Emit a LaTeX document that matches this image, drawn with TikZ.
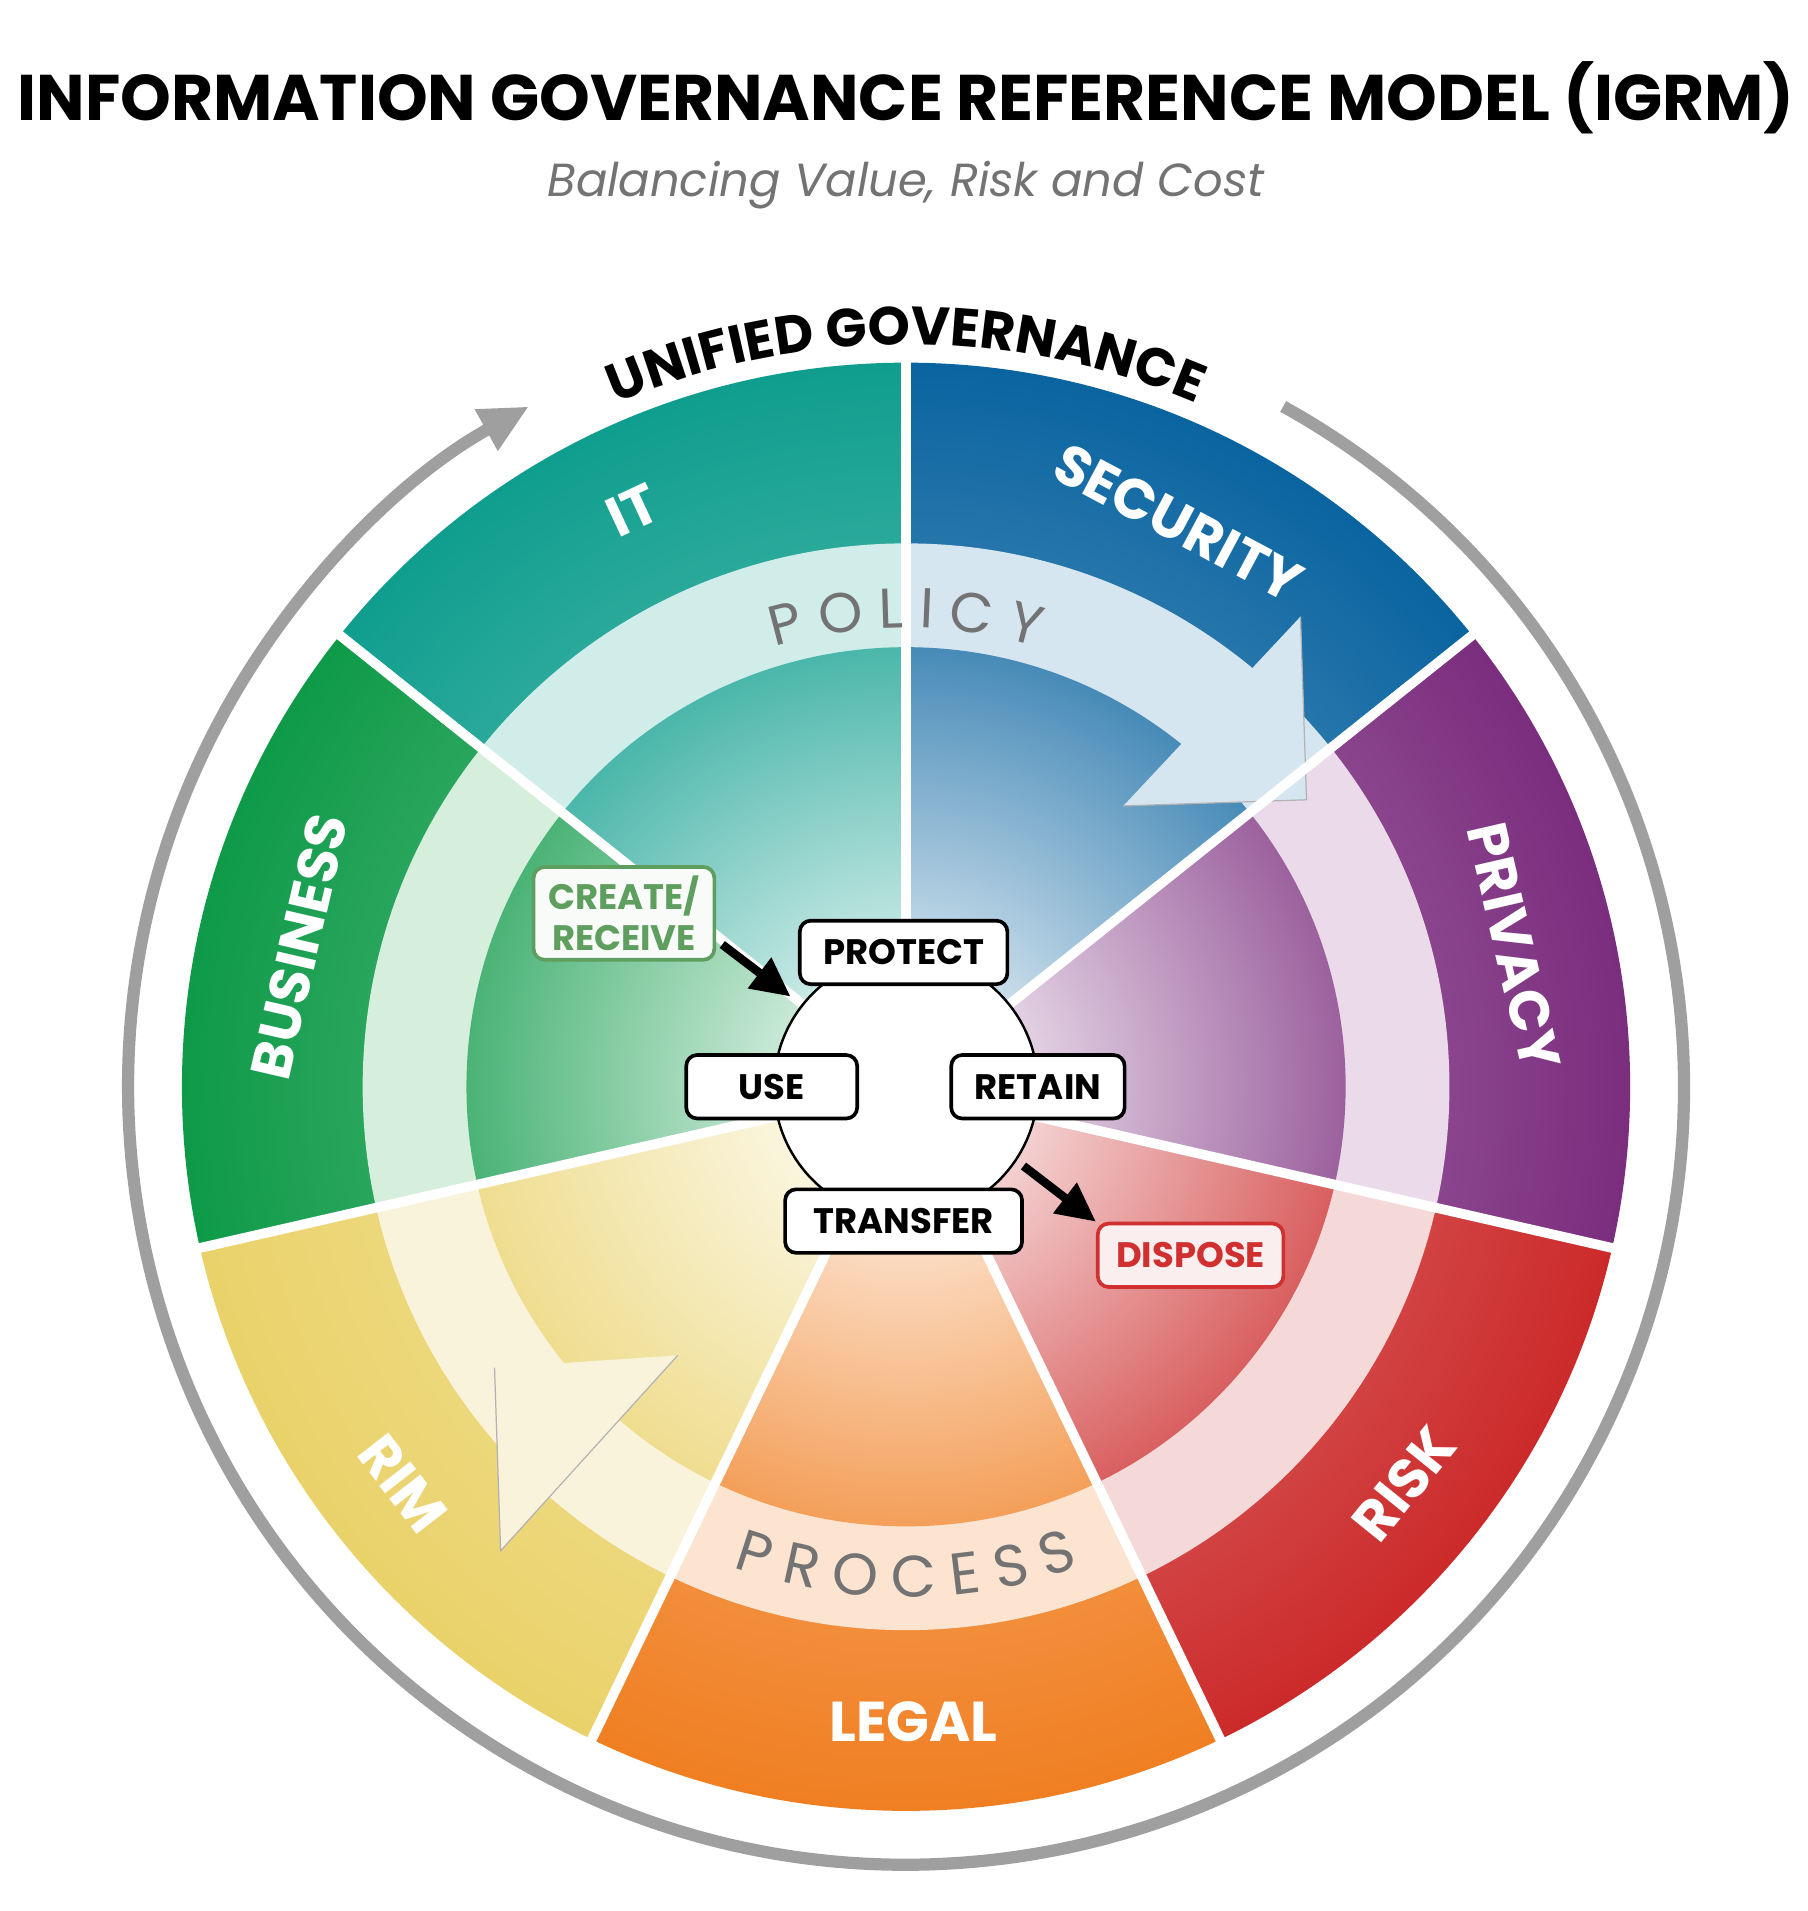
\documentclass[tikz,border=0pt]{standalone}
\usepackage{fontspec}
\newfontfamily\fut{Poppins}
\usetikzlibrary{arrows.meta,decorations.text,calc}
\definecolor{cIT}{HTML}{0F9E8E}
\definecolor{cSE}{HTML}{0A64A0}
\definecolor{cPR}{HTML}{7B2D7E}
\definecolor{cRI}{HTML}{CC2A2A}
\definecolor{cLE}{HTML}{F07F22}
\definecolor{cRM}{HTML}{EAD26A}
\definecolor{cBU}{HTML}{0E9A48}
\definecolor{rIT}{HTML}{D0EDEA}
\definecolor{rSE}{HTML}{D6E6F0}
\definecolor{rPR}{HTML}{EADAEA}
\definecolor{rRI}{HTML}{F5D8D8}
\definecolor{rLE}{HTML}{FCE4D0}
\definecolor{rRM}{HTML}{FAF3DC}
\definecolor{rBU}{HTML}{D6EEDC}
\definecolor{cgreen}{HTML}{5E9E5E}
\definecolor{cred}{HTML}{D03030}
\tikzset{
 cbox/.style={draw=black,line width=3pt,rounded corners=9pt,fill=white,minimum height=52pt,inner xsep=6pt,font=\fut\bfseries\fontsize{29}{32}\selectfont},
 seclabel/.style={text=white,font=\fut\bfseries\fontsize{46}{50}\selectfont},
 blk/.style={-{Triangle[length=32pt,width=30pt]},line width=7pt}
}
\newcommand{\sector}[4]{% start end outer inner-ring
  \begin{scope}
    \clip (0,0) -- (#1:600pt) arc[start angle=#1,end angle=#2,radius=600pt] -- cycle;
    \shade[inner color=#3!55,outer color=#3] (0,0) circle (593pt);
    \fill[#4] (0,0) circle (445pt);
    \shade[inner color=white,outer color=#3!75] (0,0) circle (360pt);
  \end{scope}}
\begin{document}
\begin{tikzpicture}[x=1pt,y=1pt]
\useasboundingbox (-742,-675) rectangle (738,890);
\fill[white] (-742,-675) rectangle (738,890);
\node[font=\fut\bfseries] (title) at (0,810) {\resizebox{1455pt}{!}{INFORMATION GOVERNANCE REFERENCE MODEL (IGRM)}};
\node[font=\fut\itshape\fontsize{38}{42}\selectfont,text=gray!90!black] (sub) at (0,738) {Balancing Value, Risk and Cost};
% sectors
\sector{90}{141.43}{cIT}{rIT}
\sector{141.43}{192.86}{cBU}{rBU}
\sector{192.86}{244.29}{cRM}{rRM}
\sector{244.29}{295.71}{cLE}{rLE}
\sector{295.71}{347.14}{cRI}{rRI}
\sector{347.14}{398.57}{cPR}{rPR}
\sector{38.57}{90}{cSE}{rSE}
% arrowheads
\fill[rSE] (323,385) -- (328,235) -- (178,230) -- cycle;
\fill[rRM] (-337,-230) -- (-332,-380) -- (-187,-220) -- cycle;
\draw[gray!60,line width=1pt] (323,385) -- (328,235) -- (178,230);
\draw[gray!60,line width=1pt] (-337,-230) -- (-332,-380) -- (-187,-220);
% dividers
\foreach \a in {90,141.43,192.86,244.29,295.71,347.14,38.57}
  \draw[white,line width=8pt] (0,0) -- (\a:600pt);
% outer arrow
\draw[gray!75,line width=10pt,-{Triangle[length=40pt,width=36pt]}] (61:637pt) arc[start angle=61,end angle=-241,radius=637pt];
% curved texts
\path[decorate,decoration={text along path,text align=center,text={|\fut\bfseries\fontsize{44}{48}\selectfont|UNIFIED GOVERNANCE}}] (145:608pt) arc[start angle=145,end angle=35,radius=608pt];
\path[decorate,decoration={text along path,text align=center,text color=gray!90!black,text={|\fut\fontsize{46}{50}\selectfont|P   O   L   I   C   Y}}] (125:376pt) arc[start angle=125,end angle=55,radius=376pt];
\path[decorate,decoration={text along path,text align=center,text color=gray!90!black,text={|\fut\fontsize{48}{52}\selectfont|P   R   O   C   E   S   S}}] (228:418pt) arc[start angle=228,end angle=312,radius=418pt];
% sector labels
\node[seclabel,rotate=25] (lit) at (-224,472) {IT};
\node[seclabel,rotate=-28] (lse) at (223,462) {SECURITY};
\node[seclabel,rotate=-77] (lpr) at (498,115) {PRIVACY};
\node[seclabel,rotate=77] (lbu) at (-497,115) {BUSINESS};
\node[seclabel,rotate=-52] (lrm) at (-412,-325) {RIM};
\node[seclabel] (lle) at (6,-520) {LEGAL};
\node[seclabel,rotate=51] (lri) at (408,-325) {RISK};
% center
\draw[black,line width=2pt,fill=white] (0,0) circle (108pt);
\node[cbox,minimum width=170pt] (protect) at (-2,110) {PROTECT};
\node[cbox,minimum width=140pt] (use) at (-110,0) {USE};
\node[cbox,minimum width=142pt] (retain) at (108,0) {RETAIN};
\node[cbox,minimum width=194pt] (transfer) at (-2,-110) {TRANSFER};
\node[cbox,draw=cgreen,fill=white!85!cgreen!25,text=cgreen,align=center,minimum width=148pt,minimum height=76pt,font=\fut\bfseries\fontsize{29}{34}\selectfont] (create) at (-231,142) {CREATE/\\RECEIVE};
\node[cbox,draw=cred,fill=cred!8,text=cred,minimum width=152pt] (dispose) at (233,-138) {DISPOSE};
\coordinate (a1) at (142:120pt);
\coordinate (a2) at (-34:116pt);
\draw[blk] (create.south east) ++(5,14) -- (a1);
\draw[blk] (a2) -- (dispose.north west);
\end{tikzpicture}
\end{document}
